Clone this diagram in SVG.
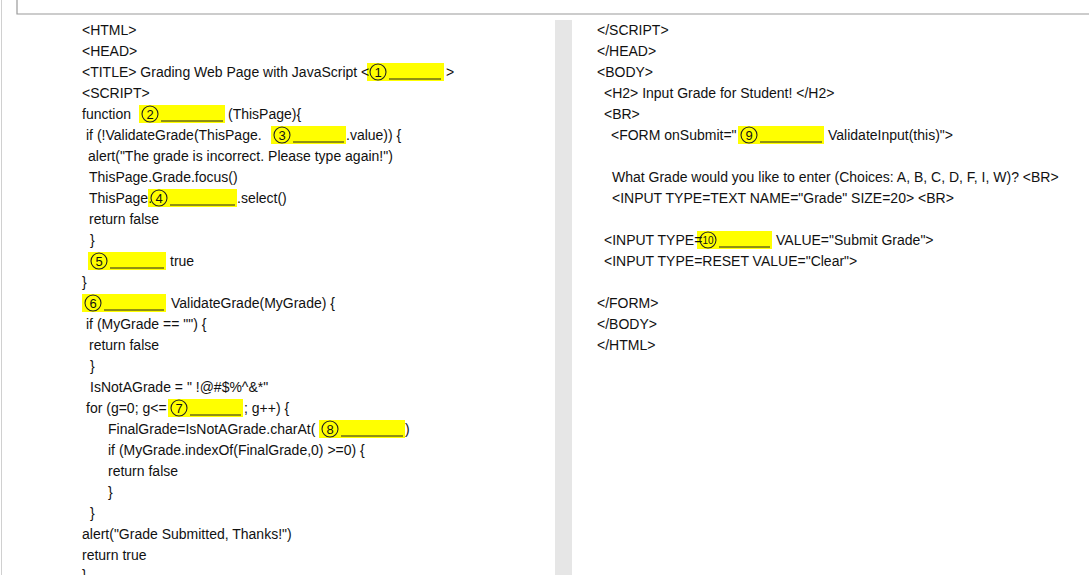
<svg xmlns="http://www.w3.org/2000/svg" width="1089" height="575" viewBox="0 0 1089 575">
<style>
text{font-family:"Liberation Sans",Arial,sans-serif;font-size:14px;fill:#111}
.hl{fill:#ffff00}
.c{fill:none;stroke:#222;stroke-width:1.1}
.u{stroke:#222;stroke-width:1}
.n{font-size:13px;text-anchor:middle}
</style>
<rect width="1089" height="575" fill="#fff"/>
<path d="M17 0V14H1089" fill="none" stroke="#9a9a9a" stroke-width="1.2"/>
<line x1="1.5" y1="0" x2="1.5" y2="575" stroke="#d0d0d0"/>
<rect x="555" y="20" width="17" height="555" fill="#e6e6e6"/>
<defs>
<g id="b"><circle class="c" cx="10" cy="-5" r="8"/></g>
</defs>
<g id="left">
<text x="82" y="35">&lt;HTML&gt;</text>
<text x="82" y="56">&lt;HEAD&gt;</text>
<rect class="hl" x="367" y="63" width="77" height="18"/><use href="#b" x="368" y="77"/><text class="n" x="378" y="76.5">1</text><line class="u" x1="389" y1="79" x2="441" y2="79"/>
<text x="82" y="77">&lt;TITLE&gt; Grading Web Page with JavaScript &lt;</text><text x="446" y="77">&gt;</text>
<text x="82" y="98">&lt;SCRIPT&gt;</text>
<rect class="hl" x="139" y="105" width="86" height="18"/><use href="#b" x="140" y="119"/><text class="n" x="150" y="118.5">2</text><line class="u" x1="161" y1="121" x2="223" y2="121"/>
<text x="82" y="119">function</text><text x="228" y="119">(ThisPage){</text>
<rect class="hl" x="271" y="126" width="75" height="18"/><use href="#b" x="272" y="140"/><text class="n" x="282" y="139.5">3</text><line class="u" x1="293" y1="142" x2="344" y2="142"/>
<text x="86" y="140">if (!ValidateGrade(ThisPage.</text><text x="346" y="140">.value)) {</text>
<text x="88" y="161">alert("The grade is incorrect. Please type again!")</text>
<text x="89" y="182">ThisPage.Grade.focus()</text>
<rect class="hl" x="148" y="189" width="89" height="18"/><use href="#b" x="149" y="203"/><text class="n" x="159" y="202.5">4</text><line class="u" x1="170" y1="205" x2="235" y2="205"/>
<text x="89" y="203">ThisPage.</text><text x="237" y="203">.select()</text>
<text x="89" y="224">return false</text>
<text x="90" y="245">}</text>
<rect class="hl" x="88" y="252" width="78" height="18"/><use href="#b" x="89" y="266"/><text class="n" x="99" y="265.5">5</text><line class="u" x1="110" y1="268" x2="164" y2="268"/>
<text x="170" y="266">true</text>
<text x="82" y="287">}</text>
<rect class="hl" x="82" y="294" width="84" height="18"/><use href="#b" x="83" y="308"/><text class="n" x="93" y="307.5">6</text><line class="u" x1="104" y1="310" x2="164" y2="310"/>
<text x="171" y="308">ValidateGrade(MyGrade) {</text>
<text x="86" y="329">if (MyGrade == "") {</text>
<text x="89" y="350">return false</text>
<text x="90" y="371">}</text>
<text x="90" y="392">IsNotAGrade = " !@#$%^&amp;*"</text>
<rect class="hl" x="168" y="399" width="75" height="18"/><use href="#b" x="169" y="413"/><text class="n" x="179" y="412.5">7</text><line class="u" x1="190" y1="415" x2="241" y2="415"/>
<text x="86" y="413">for (g=0; g&lt;=</text><text x="244" y="413">; g++) {</text>
<rect class="hl" x="319" y="420" width="86" height="18"/><use href="#b" x="320" y="434"/><text class="n" x="330" y="433.5">8</text><line class="u" x1="341" y1="436" x2="403" y2="436"/>
<text x="108" y="434">FinalGrade=IsNotAGrade.charAt(</text><text x="405" y="434">)</text>
<text x="108" y="455">if (MyGrade.indexOf(FinalGrade,0) &gt;=0) {</text>
<text x="108" y="476">return false</text>
<text x="108" y="497">}</text>
<text x="90" y="518">}</text>
<text x="82" y="539">alert("Grade Submitted, Thanks!")</text>
<text x="82" y="560">return true</text>
<text x="82" y="580">}</text>
</g>
<g id="right">
<text x="597" y="35">&lt;/SCRIPT&gt;</text>
<text x="597" y="56">&lt;/HEAD&gt;</text>
<text x="597" y="77">&lt;BODY&gt;</text>
<text x="604" y="98">&lt;H2&gt; Input Grade for Student! &lt;/H2&gt;</text>
<text x="604" y="119">&lt;BR&gt;</text>
<rect class="hl" x="738" y="126" width="86" height="18"/><use href="#b" x="739" y="140"/><text class="n" x="749" y="139.5">9</text><line class="u" x1="760" y1="142" x2="822" y2="142"/>
<text x="611" y="140">&lt;FORM onSubmit="</text><text x="828" y="140">ValidateInput(this)"&gt;</text>
<text x="612" y="182">What Grade would you like to enter (Choices: A, B, C, D, F, I, W)? &lt;BR&gt;</text>
<text x="612" y="203">&lt;INPUT TYPE=TEXT NAME="Grade" SIZE=20&gt; &lt;BR&gt;</text>
<rect class="hl" x="697" y="231" width="75" height="18"/><use href="#b" x="698" y="245"/><text class="n" x="708" y="244" style="font-size:10px">10</text><line class="u" x1="719" y1="247" x2="770" y2="247"/>
<text x="604" y="245">&lt;INPUT TYPE=</text><text x="776" y="245">VALUE="Submit Grade"&gt;</text>
<text x="604" y="266">&lt;INPUT TYPE=RESET VALUE="Clear"&gt;</text>
<text x="597" y="308">&lt;/FORM&gt;</text>
<text x="597" y="329">&lt;/BODY&gt;</text>
<text x="597" y="350">&lt;/HTML&gt;</text>
</g>
</svg>
